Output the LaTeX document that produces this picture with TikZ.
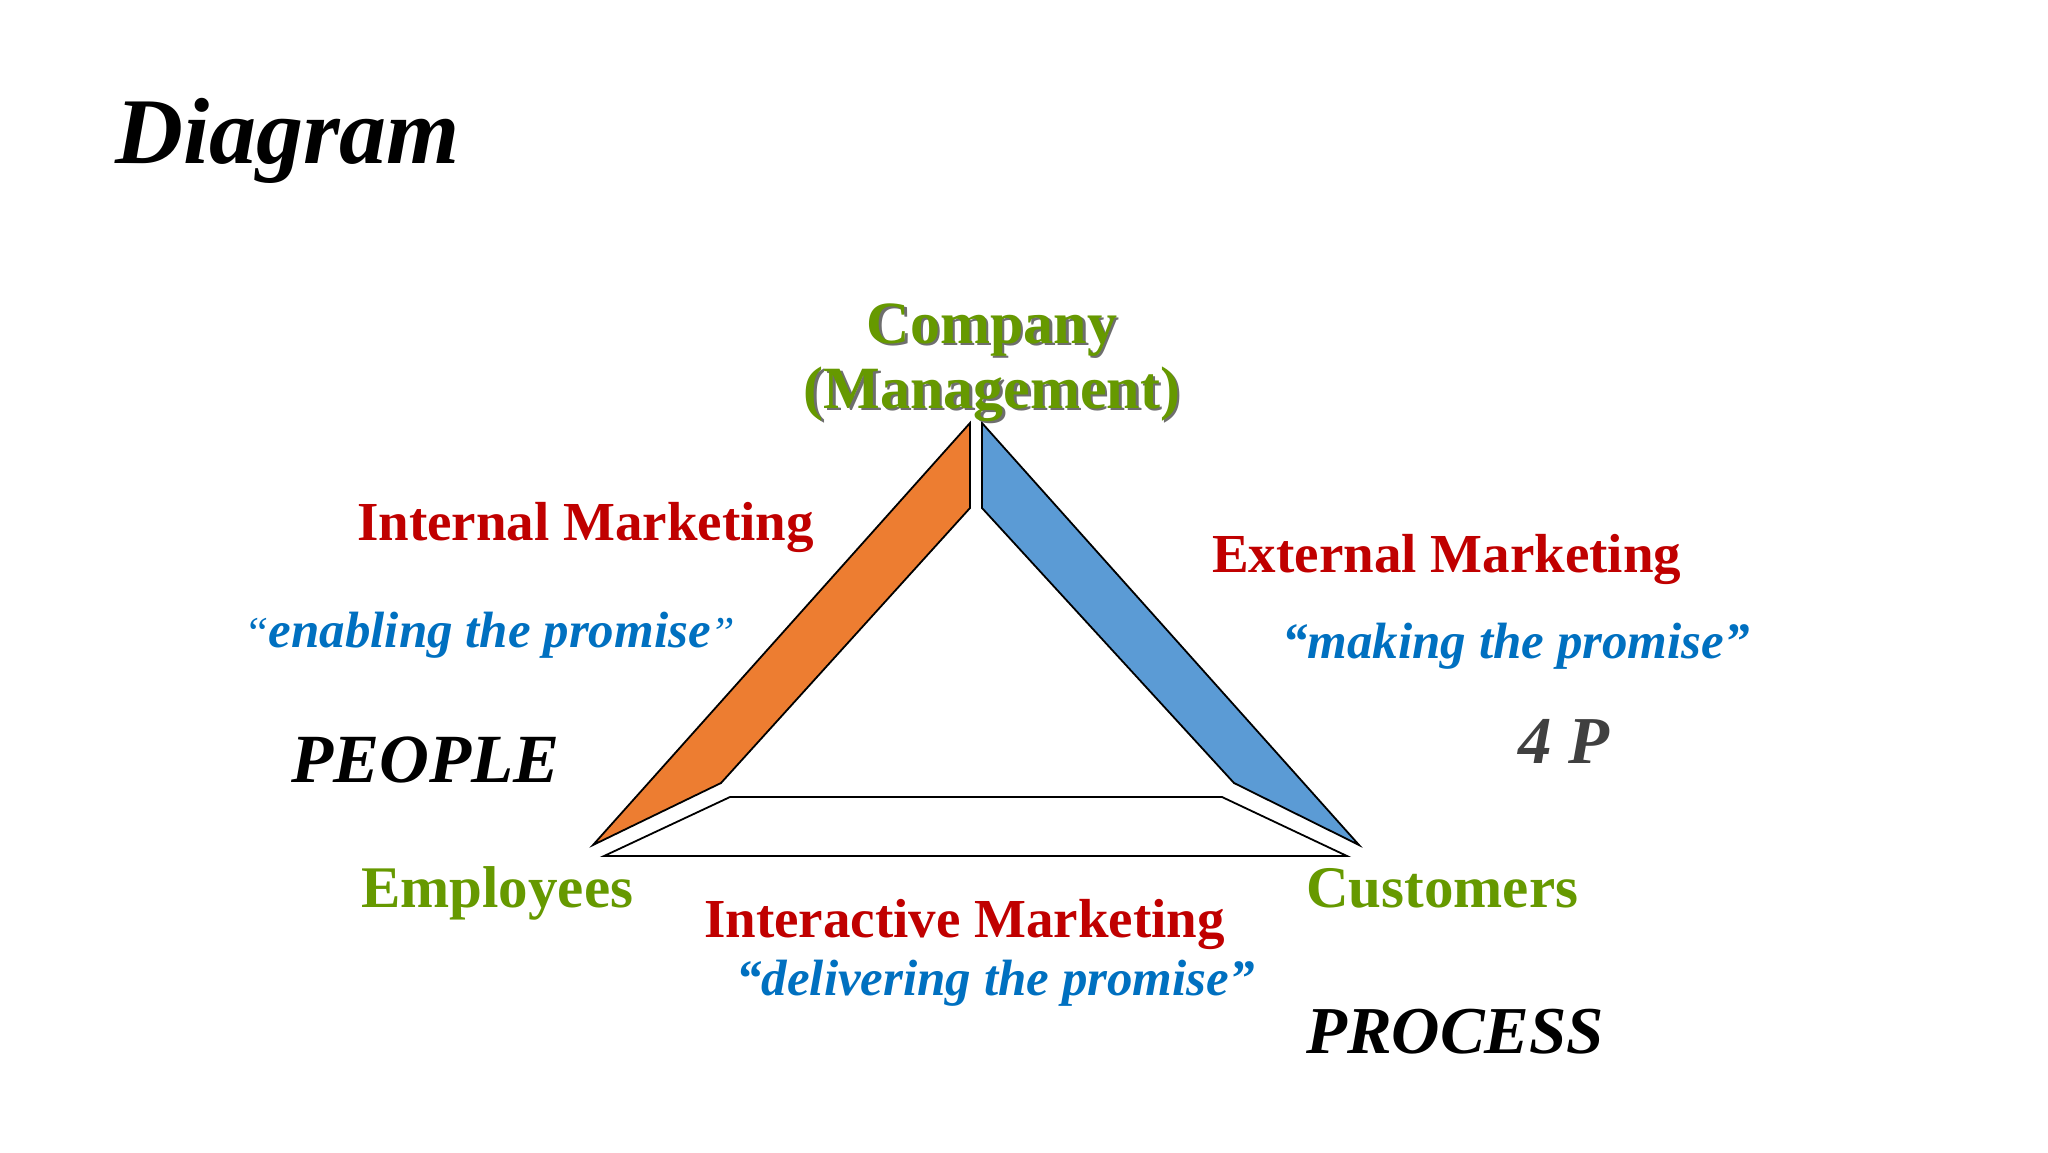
\documentclass[tikz,border=0pt]{standalone}
\usepackage{fontspec}
\setmainfont{Liberation Serif}
\definecolor{cgreen}{RGB}{102,153,0}
\definecolor{cred}{RGB}{192,0,0}
\definecolor{cblue}{RGB}{0,112,192}
\definecolor{corange}{RGB}{237,125,49}
\definecolor{cbandblue}{RGB}{91,155,213}
\definecolor{cgray}{RGB}{64,64,64}
\definecolor{cshadow}{RGB}{110,110,110}
\tikzset{
  lbl/.style={inner sep=0pt, anchor=base west},
  lblc/.style={inner sep=0pt, anchor=base},
  band/.style={draw=black, line width=1.8pt, line join=miter},
  greentxt/.style={lblc, text=cgreen, font=\fontsize{60}{65}\selectfont\bfseries},
  shadowtxt/.style={lblc, text=cshadow, font=\fontsize{60}{65}\selectfont\bfseries},
  redtxt/.style={lbl, text=cred, font=\fontsize{55}{60}\selectfont\bfseries},
  bluetxt/.style={lbl, text=cblue, font=\fontsize{51}{56}\selectfont\bfseries\itshape},
  blacktxt/.style={lbl, text=black, font=\fontsize{69}{72}\selectfont\bfseries\itshape},
  cornertxt/.style={lbl, text=cgreen, font=\fontsize{59}{62}\selectfont\bfseries}
}
\begin{document}
\begin{tikzpicture}[x=1pt,y=-1pt]
\useasboundingbox[fill=white] (0,0) rectangle (2048,1152);
% title
\node[lbl, font=\fontsize{94}{98}\selectfont\bfseries\itshape] (title) at (115,163) {Diagram};
% bands
\fill[band, fill=corange] (970,423) -- (970,508) -- (721,783) -- (593,845) -- cycle;
\fill[band, fill=cbandblue] (982,423) -- (982,508) -- (1234,783) -- (1359,845) -- cycle;
\draw[band, fill=white] (604,856) -- (730,797) -- (1222,797) -- (1347,856) -- cycle;
% company with shadow
\node[shadowtxt] (compshadow) at (994.5,345.5) {Company};
\node[shadowtxt] (mgmtshadow) at (994.5,410.5) {(Management)};
\node[greentxt] (company) at (992,343) {Company};
\node[greentxt] (mgmt) at (992,408) {(Management)};
% left side
\node[redtxt] (internal) at (357,540) {Internal Marketing};
\node[bluetxt] (enabling) at (244,647) {{\mdseries\fontsize{44}{50}\selectfont“}enabling the promise{\mdseries\fontsize{44}{50}\selectfont”}};
\node[blacktxt] (people) at (291,782) {PEOPLE};
% right side
\node[redtxt] (external) at (1212,572) {External Marketing};
\node[bluetxt] (making) at (1282,658) {“making the promise”};
\node[lbl, text=cgray, font=\fontsize{67}{72}\selectfont\bfseries\itshape] (fourp) at (1518,763) {4 P};
% bottom
\node[cornertxt] (employees) at (361,907) {Employees};
\node[cornertxt] (customers) at (1306,907) {Customers};
\node[redtxt] (interactive) at (704,937) {Interactive Marketing};
\node[bluetxt] (delivering) at (736,995) {“delivering the promise”};
\node[blacktxt, font=\fontsize{67}{70}\selectfont\bfseries\itshape] (process) at (1306,1053) {PROCESS};
\end{tikzpicture}
\end{document}
